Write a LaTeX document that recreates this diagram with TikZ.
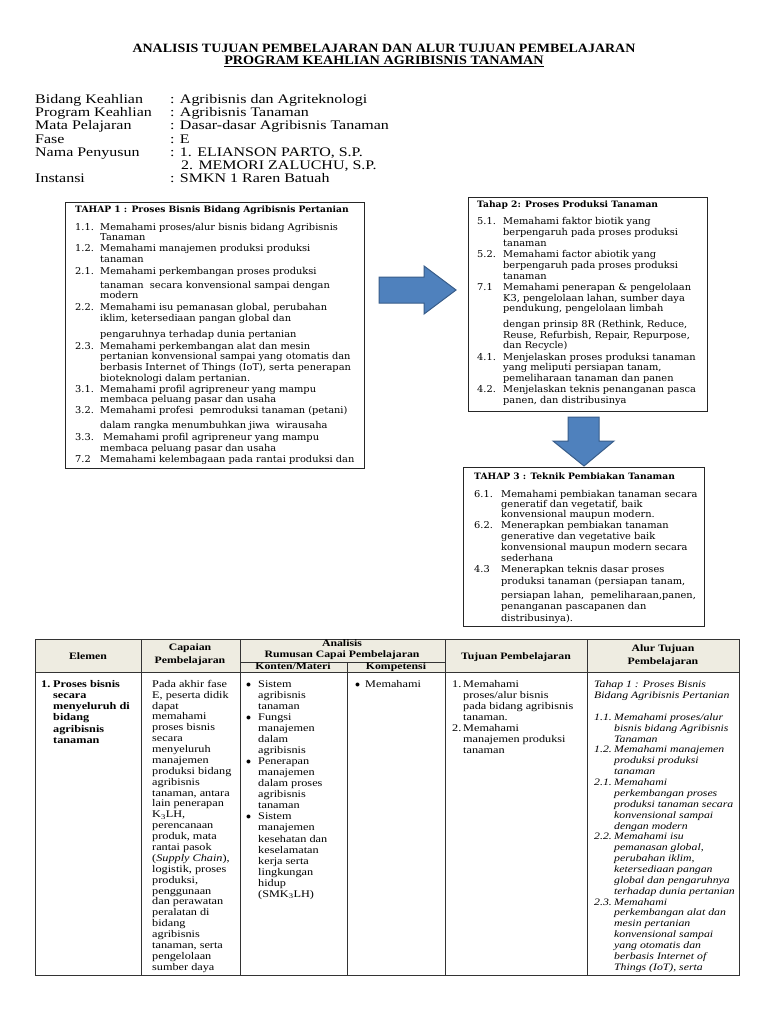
\documentclass[tikz,border=0pt]{standalone}
\usepackage{fontspec}
\setmainfont{Liberation Serif}
\newfontfamily\hdrfont[FakeStretch=1.22]{Liberation Serif}
\newfontfamily\ttlfont[FakeStretch=1.1]{Liberation Serif}
\newfontfamily\boxfont[FakeStretch=1.04]{DejaVu Serif}
\newfontfamily\tabfont[FakeStretch=1.2]{Liberation Serif}
\definecolor{arrowfill}{HTML}{4F81BD}
\definecolor{arrowline}{HTML}{385D8A}
\definecolor{headfill}{HTML}{EEECE1}
\begin{document}
\begin{tikzpicture}[x=1pt,y=-1pt,
  bx/.style={anchor=mid west, inner sep=0, font=\boxfont\fontsize{9.45}{11}\selectfont},
  bxh/.style={anchor=mid west, inner sep=0, font=\boxfont\bfseries\fontsize{8.8}{11}\selectfont},
  hd/.style={anchor=mid west, inner sep=0, font=\hdrfont\fontsize{13.1}{14}\selectfont},
  tb/.style={anchor=mid west, inner sep=0, font=\tabfont\fontsize{10.2}{11}\selectfont},
  tbb/.style={anchor=mid west, inner sep=0, font=\tabfont\bfseries\fontsize{10.2}{11}\selectfont},
  tbi/.style={anchor=mid west, inner sep=0, font=\tabfont\itshape\fontsize{9.8}{11}\selectfont},
  th/.style={anchor=mid, inner sep=0, font=\tabfont\bfseries\fontsize{9.8}{11}\selectfont},
  frame/.style={draw=black!85, line width=1.1pt, inner sep=0, anchor=north west},
  blockarrow/.style={fill=arrowfill, draw=arrowline, line width=1pt},
  grid/.style={draw=black!80, line width=1pt}
]
\useasboundingbox[fill=white] (0,0) rectangle (768,1024);

% ---------- title ----------
\node[inner sep=0, anchor=mid, font=\ttlfont\bfseries\fontsize{12.7}{14}\selectfont] (title1) at (384,50)
  {ANALISIS TUJUAN PEMBELAJARAN DAN ALUR TUJUAN PEMBELAJARAN};
\node[inner sep=0, anchor=mid, font=\ttlfont\bfseries\fontsize{12.9}{14}\selectfont] (title2) at (384,62)
  {\underline{PROGRAM KEAHLIAN AGRIBISNIS TANAMAN}};

% ---------- header info ----------
\foreach \y/\l/\v [count=\i] in {
  101/{Bidang Keahlian}/{: Agribisnis dan Agriteknologi},
  114/{Program Keahlian}/{: Agribisnis Tanaman},
  127/{Mata Pelajaran}/{: Dasar-dasar Agribisnis Tanaman},
  141/{Fase}/{: E},
  154/{Nama Penyusun}/{: 1. ELIANSON PARTO, S.P.},
  180/{Instansi}/{: SMKN 1 Raren Batuah}}{
  \node[hd] (hl\i) at (35,\y) {\l};
  \node[hd] (hv\i) at (170,\y) {\v};
}
\node[hd] (hv7) at (181,167) {2. MEMORI ZALUCHU, S.P.};

% ---------- boxes ----------
\node[frame, minimum width=299pt, minimum height=266pt] (box1) at (65,202) {};
\node[frame, minimum width=239pt, minimum height=214pt] (box2) at (468,197) {};
\node[frame, minimum width=241pt, minimum height=159pt] (box3) at (463,467) {};

% ---------- block arrows ----------
\draw[blockarrow] (379,277) -- (424,277) -- (424,266) -- (456,290) -- (424,314) -- (424,303) -- (379,303) -- cycle;
\draw[blockarrow] (568,417) -- (599,417) -- (599,441) -- (614,441) -- (584,466) -- (553,441) -- (568,441) -- cycle;

% ---------- TAHAP 1 ----------
\node[bxh] (b1h) at (75,210) {TAHAP 1 : Proses Bisnis Bidang Agribisnis Pertanian};
\foreach \y/\n [count=\i] in {228/1.1., 249/1.2., 272/2.1., 308/2.2., 347/2.3., 390/3.1., 411/3.2., 438/3.3., 460/7.2}
  \node[bx] (b1n\i) at (75,\y) {\n};
\foreach \y/\t [count=\i] in {
  228/{Memahami proses/alur bisnis bidang Agribisnis},
  238/{Tanaman},
  249/{Memahami manajemen produksi produksi},
  260/{tanaman},
  272/{Memahami perkembangan proses produksi},
  286/{tanaman\ \ secara konvensional sampai dengan},
  296/{modern},
  308/{Memahami isu pemanasan global, perubahan},
  319/{iklim, ketersediaan pangan global dan},
  335/{pengaruhnya terhadap dunia pertanian},
  347/{Memahami perkembangan alat dan mesin},
  357/{pertanian konvensional sampai yang otomatis dan},
  368/{berbasis Internet of Things (IoT), serta penerapan},
  379/{bioteknologi dalam pertanian.},
  390/{Memahami profil agripreneur yang mampu},
  400/{membaca peluang pasar dan usaha},
  411/{Memahami profesi\ \ pemroduksi tanaman (petani)},
  426/{dalam rangka menumbuhkan jiwa\ \ wirausaha},
  449/{membaca peluang pasar dan usaha},
  460/{Memahami kelembagaan pada rantai produksi dan}}
  \node[bx] (b1t\i) at (100,\y) {\t};
\node[bx] (b1t21) at (103,438) {Memahami profil agripreneur yang mampu};

% ---------- Tahap 2 ----------
\node[bxh] (b2h) at (477,205) {Tahap 2: Proses Produksi Tanaman};
\foreach \y/\n [count=\i] in {222/5.1., 255/5.2., 288/7.1, 358/4.1., 390/4.2.}
  \node[bx] (b2n\i) at (477,\y) {\n};
\foreach \y/\t [count=\i] in {
  222/{Memahami faktor biotik yang},
  233/{berpengaruh pada proses produksi},
  244/{tanaman},
  255/{Memahami factor abiotik yang},
  266/{berpengaruh pada proses produksi},
  277/{tanaman},
  288/{Memahami penerapan \& pengelolaan},
  299/{K3, pengelolaan lahan, sumber daya},
  309/{pendukung, pengelolaan limbah},
  325/{dengan prinsip 8R (Rethink, Reduce,},
  336/{Reuse, Refurbish, Repair, Repurpose,},
  346/{dan Recycle)},
  358/{Menjelaskan proses produksi tanaman},
  368/{yang meliputi persiapan tanam,},
  379/{pemeliharaan tanaman dan panen},
  390/{Menjelaskan teknis penanganan pasca},
  401/{panen, dan distribusinya}}
  \node[bx] (b2t\i) at (503,\y) {\t};

% ---------- TAHAP 3 ----------
\node[bxh] (b3h) at (474,477) {TAHAP 3 : Teknik Pembiakan Tanaman};
\foreach \y/\n [count=\i] in {495/6.1., 526/6.2., 570/4.3}
  \node[bx] (b3n\i) at (474,\y) {\n};
\foreach \y/\t [count=\i] in {
  495/{Memahami pembiakan tanaman secara},
  505/{generatif dan vegetatif, baik},
  515/{konvensional maupun modern.},
  526/{Menerapkan pembiakan tanaman},
  537/{generative dan vegetative baik},
  548/{konvensional maupun modern secara},
  559/{sederhana},
  570/{Menerapkan teknis dasar proses},
  582/{produksi tanaman (persiapan tanam,},
  596/{persiapan lahan,\ \ pemeliharaan,panen,},
  607/{penanganan pascapanen dan},
  619/{distribusinya).}}
  \node[bx] (b3t\i) at (501,\y) {\t};

% ---------- table ----------
\fill[headfill] (35,639) rectangle (739,672);
\draw[grid] (35,639) rectangle (739,975);
\draw[grid] (35,672) -- (739,672);
\draw[grid] (240,662) -- (445,662);
\foreach \x in {141,240,445,587} \draw[grid] (\x,639) -- (\x,975);
\draw[grid] (347,662) -- (347,975);

\node[th] (h1) at (88,657) {Elemen};
\node[th] (h2a) at (190,648) {Capaian};
\node[th] (h2b) at (190,661) {Pembelajaran};
\node[th] (h3a) at (342,644) {Analisis};
\node[th] (h3b) at (342,655) {Rumusan Capai Pembelajaran};
\node[th] (h3c) at (293,667) {Konten/Materi};
\node[th] (h3d) at (396,667) {Kompetensi};
\node[th] (h4) at (516,657) {Tujuan Pembelajaran};
\node[th] (h5a) at (663,649) {Alur Tujuan};
\node[th] (h5b) at (663,662) {Pembelajaran};

% column 1
\node[tbb] (c1n) at (41,685) {1.};
\foreach \t [count=\i] in {Proses bisnis, secara, menyeluruh di, bidang, agribisnis, tanaman}
  \node[tbb] (c1t\i) at (53,{685+(\i-1)*11.2}) {\t};

% column 2
\foreach \t [count=\i] in {Pada akhir fase, {E, peserta didik}, dapat, memahami, proses bisnis, secara,
  menyeluruh, manajemen, produksi bidang, agribisnis, {tanaman, antara}, lain penerapan,
  {K\textsubscript{3}LH,}, perencanaan, {produk, mata}, rantai pasok, {(\textit{Supply Chain}),},
  {logistik, proses}, {produksi,}, penggunaan, dan perawatan, peralatan di, bidang, agribisnis,
  {tanaman, serta}, pengelolaan, sumber daya}
  \node[tb] (c2t\i) at (152,{685+(\i-1)*10.88}) {\t};

% column 3
\foreach \i in {1,4,8,13} \node[tb] (c3b\i) at (246,{685+(\i-1)*11.05}) {$\bullet$};
\foreach \t [count=\i] in {Sistem, agribisnis, tanaman, Fungsi, manajemen, dalam, agribisnis,
  Penerapan, manajemen, dalam proses, agribisnis, tanaman, Sistem, manajemen, kesehatan dan,
  keselamatan, kerja serta, lingkungan, hidup, (SMK\textsubscript{3}LH)}
  \node[tb] (c3t\i) at (258,{685+(\i-1)*11.05}) {\t};

% column 4
\node[tb] (c4b) at (355,685) {$\bullet$};
\node[tb] (c4t) at (365,685) {Memahami};

% column 5
\node[tb] (c5n1) at (452,685) {1.};
\node[tb] (c5n2) at (452,729) {2.};
\foreach \t [count=\i] in {Memahami, proses/alur bisnis, pada bidang agribisnis, tanaman.,
  Memahami, manajemen produksi, tanaman}
  \node[tb] (c5t\i) at (463,{685+(\i-1)*10.95}) {\t};

% column 6
\node[tbi] (c6h1) at (594,685) {Tahap 1 : Proses Bisnis};
\node[tbi] (c6h2) at (594,696) {Bidang Agribisnis Pertanian};
\foreach \i/\n in {0/1.1., 3/1.2., 6/2.1., 11/2.2., 17/2.3.}
  \node[tbi] (c6n\i) at (594,{718+\i*10.87}) {\n};
\foreach \t [count=\i] in {Memahami proses/alur, bisnis bidang Agribisnis, Tanaman,
  Memahami manajemen, produksi produksi, tanaman, Memahami, perkembangan proses,
  produksi tanaman secara, konvensional sampai, dengan modern, Memahami isu,
  {pemanasan global,}, {perubahan iklim,}, ketersediaan pangan, global dan pengaruhnya,
  terhadap dunia pertanian, Memahami, perkembangan alat dan, mesin pertanian,
  konvensional sampai, yang otomatis dan, berbasis Internet of, {Things (IoT), serta}}
  \node[tbi] (c6t\i) at (614,{718+(\i-1)*10.87}) {\t};
\end{tikzpicture}
\end{document}
